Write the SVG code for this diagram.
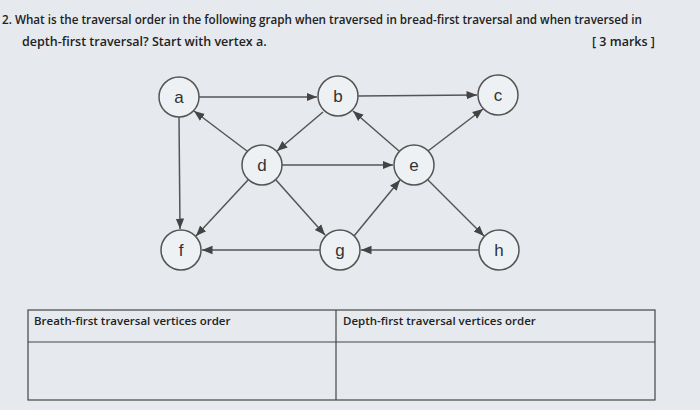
<svg xmlns="http://www.w3.org/2000/svg" width="700" height="410" viewBox="0 0 700 410">
<defs>
<marker id="ah" viewBox="0 0 10 10" refX="10" refY="5" markerWidth="7" markerHeight="7" orient="auto-start-reverse"><path d="M0,1 L10,5 L0,9 z" fill="#444"/></marker>
</defs>
<style>
.n circle{fill:#eef1f4;stroke:#555;stroke-width:1.5}
.n text{font-family:"Liberation Sans",Arial,sans-serif;font-size:17px;fill:#333;text-anchor:middle}
.e line{stroke:#555;stroke-width:1.5;marker-end:url(#ah)}
.t{font-family:"Open Sans","Liberation Sans",sans-serif;font-size:12.5px;fill:#222;font-weight:600}
</style>
<rect width="700" height="410" fill="#e6eaee"/>
<text class="t" x="2" y="24" textLength="640" lengthAdjust="spacingAndGlyphs">2.  What is the traversal order in the following graph when traversed in bread-first traversal and when traversed in</text>
<text class="t" x="22" y="46">depth-first traversal? Start with vertex a.</text>
<text class="t" x="592" y="46">[ 3 marks ]</text>
<g class="e" id="connectors">
<line x1="199" y1="97" x2="317" y2="97"/>
<line x1="358" y1="96" x2="477" y2="95"/>
<line x1="247" y1="151" x2="194" y2="111"/>
<line x1="323" y1="112" x2="277" y2="151"/>
<line x1="399" y1="151" x2="353" y2="111"/>
<line x1="428" y1="151" x2="483" y2="109"/>
<line x1="282" y1="165" x2="393" y2="165"/>
<line x1="179" y1="117" x2="180" y2="229"/>
<line x1="248" y1="180" x2="196" y2="236"/>
<line x1="276" y1="180" x2="325" y2="235"/>
<line x1="354" y1="236" x2="400" y2="180"/>
<line x1="428" y1="180" x2="484" y2="236"/>
<line x1="320" y1="250" x2="202" y2="250"/>
<line x1="479" y1="250" x2="361" y2="250"/>
</g>
<g class="n" id="node-a"><circle cx="179" cy="97" r="20"/><text x="179" y="103">a</text></g>
<g class="n" id="node-b"><circle cx="338" cy="96" r="20"/><text x="338" y="102">b</text></g>
<g class="n" id="node-c"><circle cx="498" cy="95" r="20"/><text x="498" y="101">c</text></g>
<g class="n" id="node-d"><circle cx="262" cy="165" r="20"/><text x="262" y="171">d</text></g>
<g class="n" id="node-e"><circle cx="414" cy="165" r="20"/><text x="414" y="171">e</text></g>
<g class="n" id="node-f"><circle cx="181" cy="250" r="20"/><text x="181" y="256">f</text></g>
<g class="n" id="node-g"><circle cx="340" cy="250" r="20"/><text x="340" y="256">g</text></g>
<g class="n" id="node-h"><circle cx="499" cy="250" r="20"/><text x="499" y="256">h</text></g>
<g id="table" fill="none" stroke="#444" stroke-width="1.2">
<rect x="28" y="310" width="627" height="90"/>
<line x1="28" y1="342" x2="655" y2="342"/>
<line x1="336" y1="310" x2="336" y2="400"/>
</g>
<text class="t" x="34" y="325" style="font-size:11.5px">Breath-first traversal vertices order</text>
<text class="t" x="343" y="325" style="font-size:11.5px">Depth-first traversal vertices order</text>
</svg>
